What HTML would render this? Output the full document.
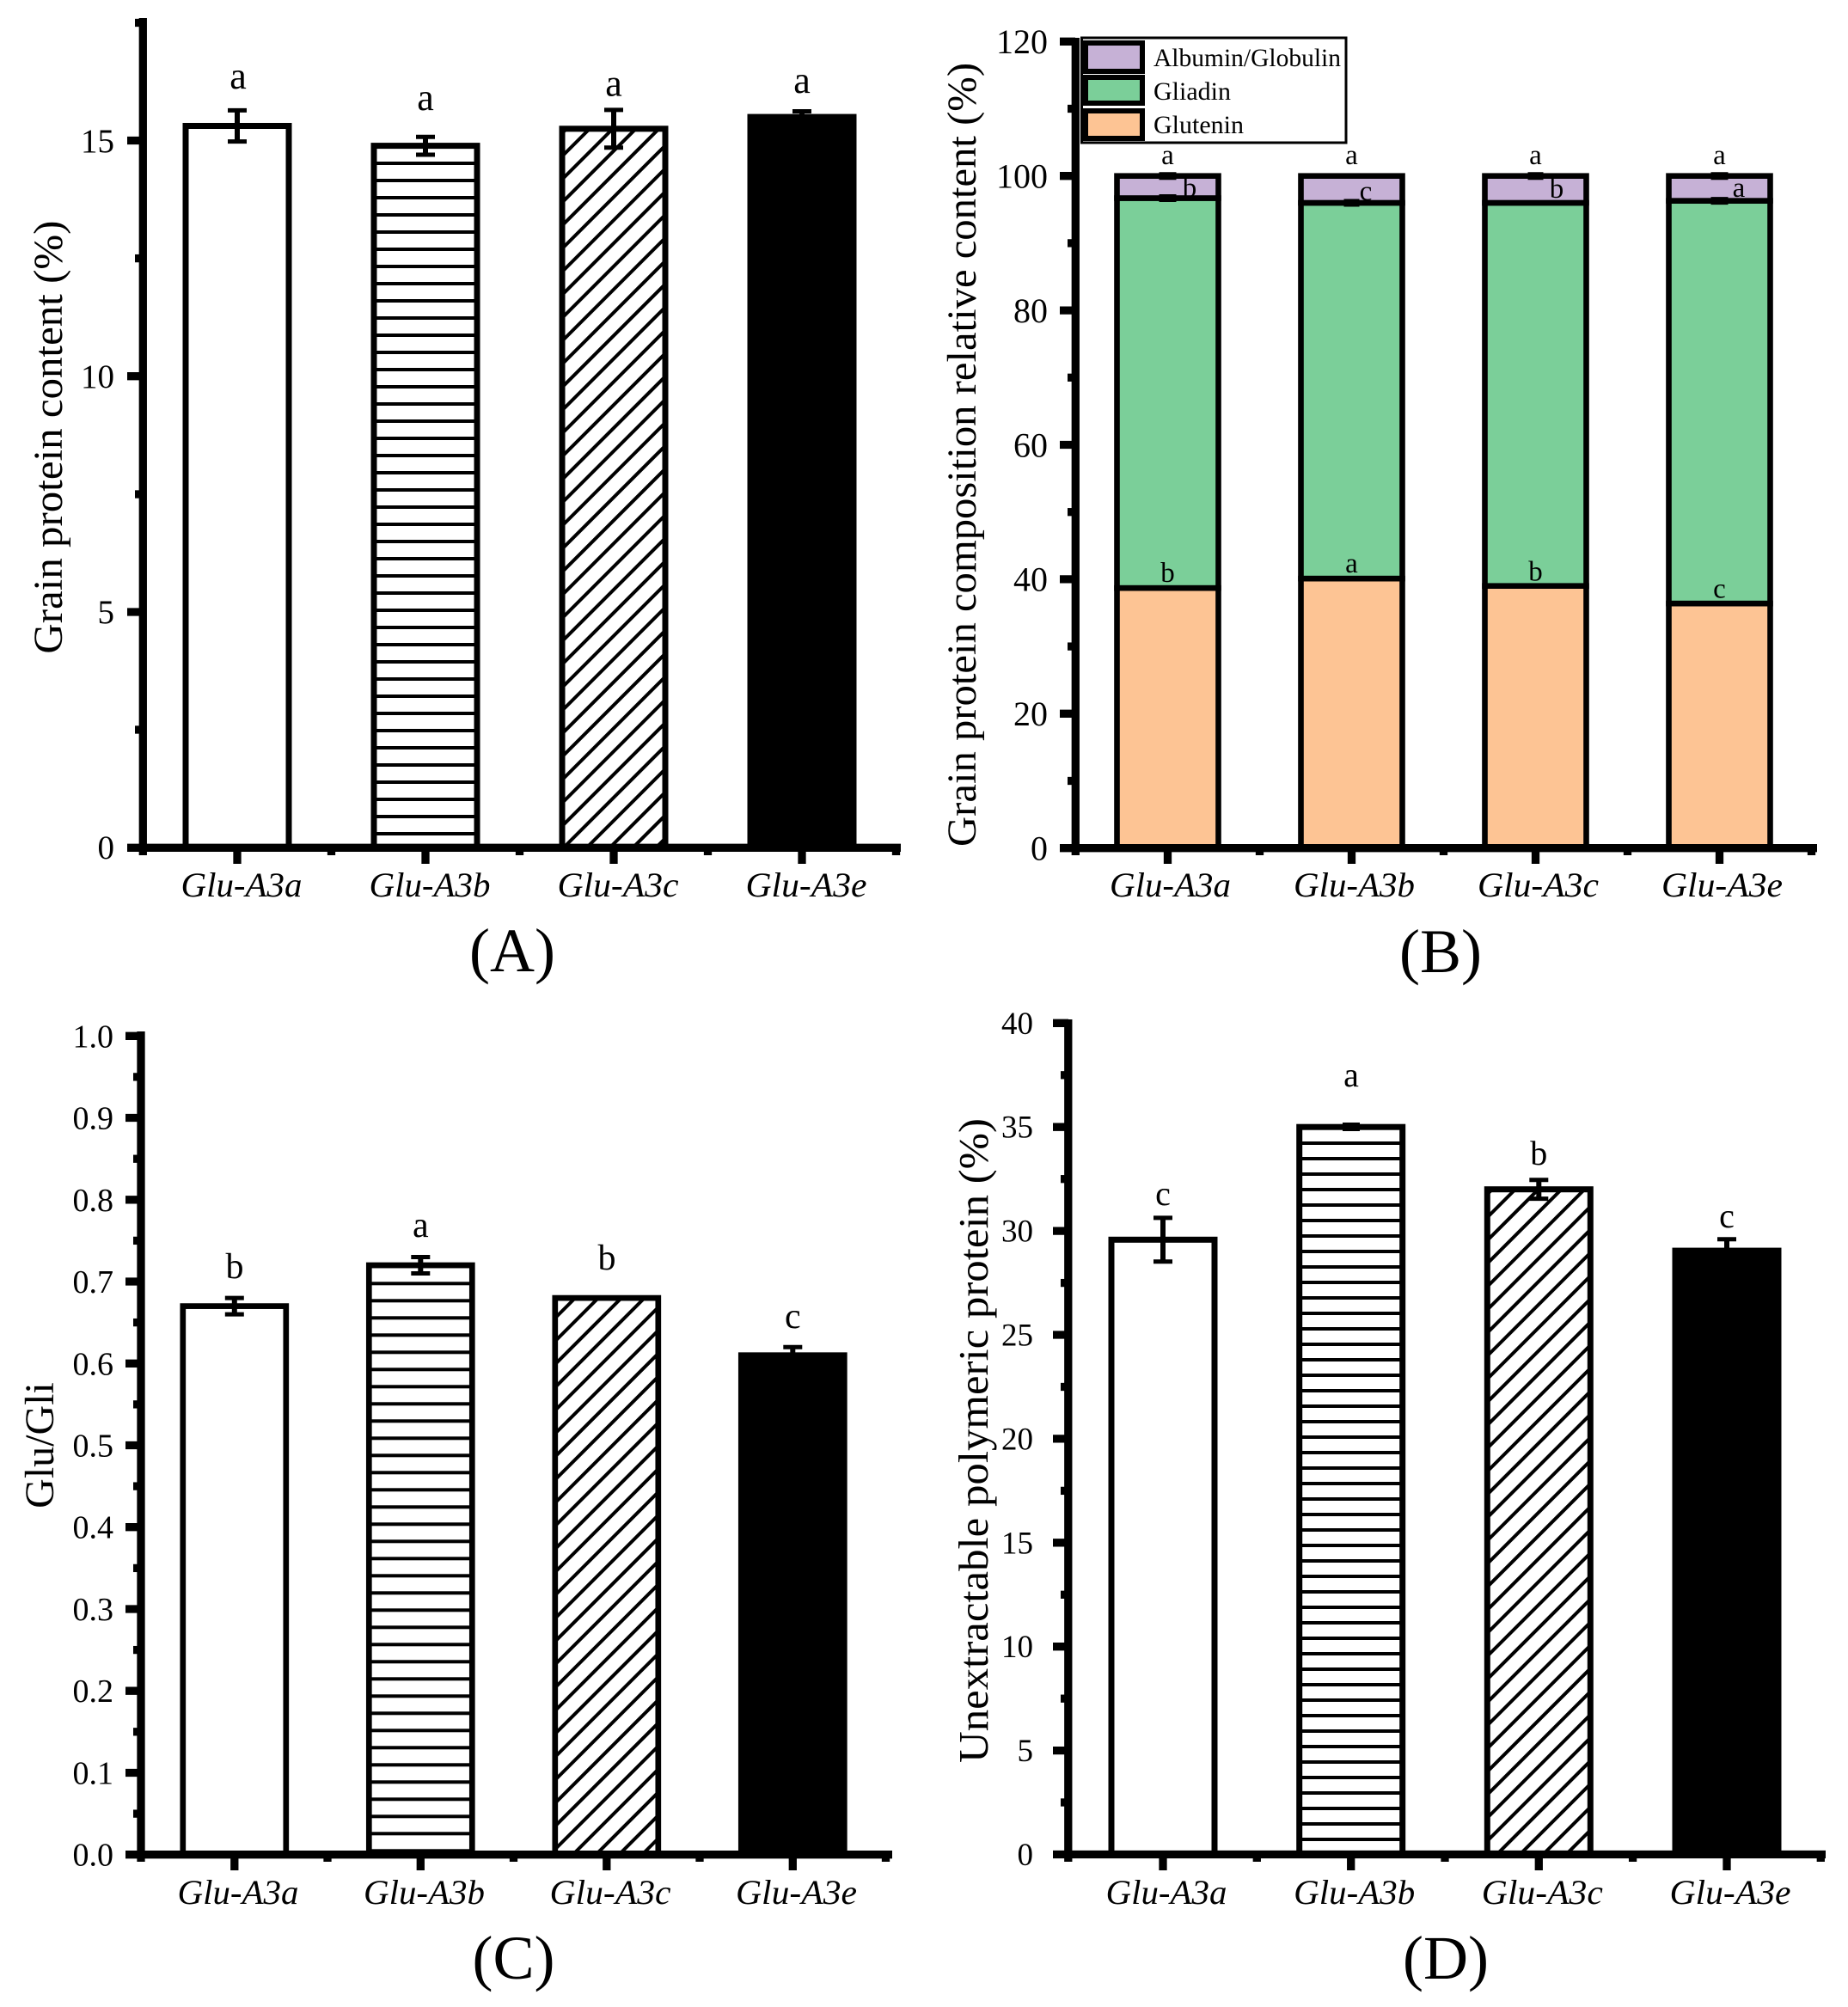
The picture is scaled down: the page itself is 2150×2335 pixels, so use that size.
<!DOCTYPE html>
<html><head><meta charset="utf-8"><style>
html,body{margin:0;padding:0;background:#fff;}
svg{display:block;}
text{font-family:"Liberation Serif","Times New Roman",serif;fill:#000;}
.it{font-style:italic;}
</style></head><body>
<svg width="2150" height="2335" viewBox="0 0 2150 2335" xmlns="http://www.w3.org/2000/svg">
<defs>
<pattern id="hA" patternUnits="userSpaceOnUse" width="40" height="20" x="0" y="0"><rect x="0" y="8" width="40" height="4" fill="#000"/></pattern>
<pattern id="hC" patternUnits="userSpaceOnUse" width="40" height="20" x="0" y="3.3"><rect x="0" y="8" width="40" height="4" fill="#000"/></pattern>
<pattern id="hD" patternUnits="userSpaceOnUse" width="40" height="18" x="0" y="7"><rect x="0" y="7" width="40" height="4" fill="#000"/></pattern>
<pattern id="dg" patternUnits="userSpaceOnUse" width="19" height="40" patternTransform="rotate(45)"><rect x="0" y="0" width="4" height="40" fill="#000"/></pattern>
</defs>
<rect width="2150" height="2335" fill="#fff"/>

<!-- ================= PANEL A ================= -->
<g>
<rect x="216" y="146.5" width="120" height="839.5" fill="#fff" stroke="#000" stroke-width="7"/>
<rect x="435" y="169.6" width="120" height="816.4" fill="#fff"/>
<rect x="435" y="169.6" width="120" height="816.4" fill="url(#hA)" stroke="#000" stroke-width="7"/>
<rect x="654" y="149.8" width="120" height="836.2" fill="#fff"/>
<rect x="654" y="149.8" width="120" height="836.2" fill="url(#dg)" stroke="#000" stroke-width="7"/>
<rect x="873" y="136.1" width="120" height="849.9" fill="#000" stroke="#000" stroke-width="7"/>
<g stroke="#000" stroke-width="6">
<line x1="276" y1="128.4" x2="276" y2="164.6"/><line x1="495" y1="159.2" x2="495" y2="180"/><line x1="714" y1="127.9" x2="714" y2="171.7"/><line x1="933" y1="129.5" x2="933" y2="137"/>
</g>
<g stroke="#000" stroke-width="5">
<line x1="265" y1="128.4" x2="287" y2="128.4"/><line x1="265" y1="164.6" x2="287" y2="164.6"/>
<line x1="484" y1="159.2" x2="506" y2="159.2"/><line x1="484" y1="180" x2="506" y2="180"/>
<line x1="703" y1="127.9" x2="725" y2="127.9"/><line x1="703" y1="171.7" x2="725" y2="171.7"/>
<line x1="922" y1="129.5" x2="944" y2="129.5"/>
</g>
<g stroke="#000" stroke-width="9.3">
<line x1="166.3" y1="21" x2="166.3" y2="995"/>
<line x1="148" y1="986.3" x2="1048" y2="986.3"/>
<line x1="148" y1="712" x2="166" y2="712"/><line x1="148" y1="437.7" x2="166" y2="437.7"/><line x1="148" y1="163.5" x2="166" y2="163.5"/>
<line x1="157" y1="849" x2="166" y2="849"/><line x1="157" y1="575" x2="166" y2="575"/><line x1="157" y1="300.6" x2="166" y2="300.6"/><line x1="157" y1="26.5" x2="166" y2="26.5"/>
<line x1="276" y1="986" x2="276" y2="1005"/><line x1="495" y1="986" x2="495" y2="1005"/><line x1="714" y1="986" x2="714" y2="1005"/><line x1="933" y1="986" x2="933" y2="1005"/>
<line x1="385.5" y1="986" x2="385.5" y2="995"/><line x1="604.5" y1="986" x2="604.5" y2="995"/><line x1="823.5" y1="986" x2="823.5" y2="995"/><line x1="1042.5" y1="986" x2="1042.5" y2="995"/>
</g>
<g font-size="39" text-anchor="end">
<text x="133" y="999">0</text><text x="133" y="725">5</text><text x="133" y="451">10</text><text x="133" y="177">15</text>
</g>
<g font-size="44" text-anchor="middle">
<text x="277" y="103">a</text><text x="495" y="128">a</text><text x="714" y="111.5">a</text><text x="933" y="108">a</text>
</g>
<g font-size="40" class="it" text-anchor="middle">
<text x="281" y="1043" textLength="141" lengthAdjust="spacingAndGlyphs">Glu-A3a</text>
<text x="500" y="1043" textLength="141" lengthAdjust="spacingAndGlyphs">Glu-A3b</text>
<text x="719" y="1043" textLength="141" lengthAdjust="spacingAndGlyphs">Glu-A3c</text>
<text x="938" y="1043" textLength="141" lengthAdjust="spacingAndGlyphs">Glu-A3e</text>
</g>
<text x="596" y="1130" font-size="72" text-anchor="middle">(A)</text>
<text transform="translate(72,508.6) rotate(-90)" font-size="48" text-anchor="middle" textLength="504" lengthAdjust="spacingAndGlyphs">Grain protein content (%)</text>
</g>

<!-- ================= PANEL B ================= -->
<g>
<g stroke="#000" stroke-width="6.6">
<rect x="1299.5" y="684.1" width="118" height="302.6" fill="#fdc494"/>
<rect x="1299.5" y="230.5" width="118" height="453.6" fill="#7bcf99"/>
<rect x="1299.5" y="204.7" width="118" height="25.8" fill="#c6b1d6"/>
<rect x="1513.5" y="673.1" width="118" height="313.6" fill="#fdc494"/>
<rect x="1513.5" y="236" width="118" height="437.1" fill="#7bcf99"/>
<rect x="1513.5" y="204.7" width="118" height="31.3" fill="#c6b1d6"/>
<rect x="1727.5" y="681.7" width="118" height="305" fill="#fdc494"/>
<rect x="1727.5" y="236" width="118" height="445.7" fill="#7bcf99"/>
<rect x="1727.5" y="204.7" width="118" height="31.3" fill="#c6b1d6"/>
<rect x="1941.5" y="702.1" width="118" height="284.6" fill="#fdc494"/>
<rect x="1941.5" y="233.6" width="118" height="468.5" fill="#7bcf99"/>
<rect x="1941.5" y="204.7" width="118" height="28.9" fill="#c6b1d6"/>
</g>
<g stroke="#000" stroke-width="9">
<line x1="1348.5" y1="204.7" x2="1368.5" y2="204.7"/><line x1="1348.5" y1="230.5" x2="1368.5" y2="230.5"/>
<line x1="1563.5" y1="236" x2="1581.5" y2="236"/>
<line x1="1777.5" y1="204.7" x2="1795.5" y2="204.7"/>
<line x1="1990.5" y1="204.7" x2="2010.5" y2="204.7"/><line x1="1990.5" y1="233.6" x2="2010.5" y2="233.6"/>
</g>
<g stroke="#000" stroke-width="9.3">
<line x1="1251.3" y1="44" x2="1251.3" y2="995"/>
<line x1="1233" y1="986.7" x2="2114" y2="986.7"/>
<line x1="1233" y1="830.3" x2="1251" y2="830.3"/><line x1="1233" y1="673.9" x2="1251" y2="673.9"/><line x1="1233" y1="517.5" x2="1251" y2="517.5"/><line x1="1233" y1="361.1" x2="1251" y2="361.1"/><line x1="1233" y1="204.7" x2="1251" y2="204.7"/><line x1="1233" y1="48.3" x2="1251" y2="48.3"/>
<line x1="1242" y1="908.5" x2="1251" y2="908.5"/><line x1="1242" y1="752.1" x2="1251" y2="752.1"/><line x1="1242" y1="595.7" x2="1251" y2="595.7"/><line x1="1242" y1="439.3" x2="1251" y2="439.3"/><line x1="1242" y1="282.9" x2="1251" y2="282.9"/><line x1="1242" y1="126.5" x2="1251" y2="126.5"/>
<line x1="1358.5" y1="986" x2="1358.5" y2="1005"/><line x1="1572.5" y1="986" x2="1572.5" y2="1005"/><line x1="1786.5" y1="986" x2="1786.5" y2="1005"/><line x1="2000.5" y1="986" x2="2000.5" y2="1005"/>
<line x1="1465.5" y1="986" x2="1465.5" y2="995"/><line x1="1679.5" y1="986" x2="1679.5" y2="995"/><line x1="1893.5" y1="986" x2="1893.5" y2="995"/><line x1="2107.5" y1="986" x2="2107.5" y2="995"/>
</g>
<!-- legend -->
<rect x="1258.5" y="44" width="307.5" height="122" fill="#fff" stroke="#000" stroke-width="3"/>
<g stroke="#000" stroke-width="6">
<rect x="1263" y="50" width="66" height="33" fill="#c6b1d6"/>
<rect x="1263" y="90" width="66" height="30" fill="#7bcf99"/>
<rect x="1263" y="129" width="66" height="32" fill="#fdc494"/>
</g>
<g font-size="30">
<text x="1342" y="77" textLength="218" lengthAdjust="spacingAndGlyphs">Albumin/Globulin</text>
<text x="1342" y="116">Gliadin</text>
<text x="1342" y="155">Glutenin</text>
</g>
<g font-size="40" text-anchor="end">
<text x="1219" y="1000.5">0</text><text x="1219" y="844.1">20</text><text x="1219" y="687.7">40</text><text x="1219" y="531.3">60</text><text x="1219" y="374.9">80</text><text x="1219" y="218.5">100</text><text x="1219" y="62.1">120</text>
</g>
<g font-size="33" text-anchor="middle">
<text x="1358.5" y="191">a</text><text x="1572.5" y="191">a</text><text x="1786.5" y="191">a</text><text x="2000.5" y="191">a</text>
<text x="1384" y="229">b</text><text x="1589" y="233">c</text><text x="1811" y="230">b</text><text x="2023" y="229">a</text>
<text x="1358.5" y="677">b</text><text x="1572.5" y="666">a</text><text x="1786.5" y="675.5">b</text><text x="2000.5" y="695.5">c</text>
</g>
<g font-size="40" class="it" text-anchor="middle">
<text x="1361.5" y="1043" textLength="141" lengthAdjust="spacingAndGlyphs">Glu-A3a</text>
<text x="1575.5" y="1043" textLength="141" lengthAdjust="spacingAndGlyphs">Glu-A3b</text>
<text x="1789.5" y="1043" textLength="141" lengthAdjust="spacingAndGlyphs">Glu-A3c</text>
<text x="2003.5" y="1043" textLength="141" lengthAdjust="spacingAndGlyphs">Glu-A3e</text>
</g>
<text x="1676" y="1131" font-size="72" text-anchor="middle">(B)</text>
<text transform="translate(1135,529) rotate(-90)" font-size="48" text-anchor="middle" textLength="912" lengthAdjust="spacingAndGlyphs">Grain protein composition relative content (%)</text>
</g>

<!-- ================= PANEL C ================= -->
<g>
<rect x="212.8" y="1519.6" width="120" height="638.1" fill="#fff" stroke="#000" stroke-width="6.7"/>
<rect x="429.3" y="1472" width="120" height="685.7" fill="#fff"/>
<rect x="429.3" y="1472" width="120" height="685.7" fill="url(#hC)" stroke="#000" stroke-width="6.7"/>
<rect x="645.8" y="1510.1" width="120" height="647.6" fill="#fff"/>
<rect x="645.8" y="1510.1" width="120" height="647.6" fill="url(#dg)" stroke="#000" stroke-width="6.7"/>
<rect x="862.3" y="1576.7" width="120" height="581" fill="#000" stroke="#000" stroke-width="6.7"/>
<g stroke="#000" stroke-width="6">
<line x1="272.8" y1="1510.1" x2="272.8" y2="1529.1"/><line x1="489.3" y1="1462.5" x2="489.3" y2="1481.5"/><line x1="922.3" y1="1567.2" x2="922.3" y2="1578"/>
</g>
<g stroke="#000" stroke-width="5">
<line x1="261.8" y1="1510.1" x2="283.8" y2="1510.1"/><line x1="261.8" y1="1529.1" x2="283.8" y2="1529.1"/>
<line x1="478.3" y1="1462.5" x2="500.3" y2="1462.5"/><line x1="478.3" y1="1481.5" x2="500.3" y2="1481.5"/>
<line x1="911.3" y1="1567.2" x2="933.3" y2="1567.2"/>
</g>
<g stroke="#000" stroke-width="9.3">
<line x1="164" y1="1200" x2="164" y2="2166"/>
<line x1="146" y1="2157.7" x2="1038" y2="2157.7"/>
<line x1="146" y1="2062.5" x2="164" y2="2062.5"/><line x1="146" y1="1967.2" x2="164" y2="1967.2"/><line x1="146" y1="1872" x2="164" y2="1872"/><line x1="146" y1="1776.7" x2="164" y2="1776.7"/><line x1="146" y1="1681.5" x2="164" y2="1681.5"/><line x1="146" y1="1586.3" x2="164" y2="1586.3"/><line x1="146" y1="1491" x2="164" y2="1491"/><line x1="146" y1="1395.8" x2="164" y2="1395.8"/><line x1="146" y1="1300.5" x2="164" y2="1300.5"/><line x1="146" y1="1205.3" x2="164" y2="1205.3"/>
<line x1="155" y1="2110.1" x2="164" y2="2110.1"/><line x1="155" y1="2014.8" x2="164" y2="2014.8"/><line x1="155" y1="1919.6" x2="164" y2="1919.6"/><line x1="155" y1="1824.4" x2="164" y2="1824.4"/><line x1="155" y1="1729.1" x2="164" y2="1729.1"/><line x1="155" y1="1633.9" x2="164" y2="1633.9"/><line x1="155" y1="1538.6" x2="164" y2="1538.6"/><line x1="155" y1="1443.4" x2="164" y2="1443.4"/><line x1="155" y1="1348.2" x2="164" y2="1348.2"/><line x1="155" y1="1252.9" x2="164" y2="1252.9"/>
<line x1="272.8" y1="2157" x2="272.8" y2="2176"/><line x1="489.3" y1="2157" x2="489.3" y2="2176"/><line x1="705.8" y1="2157" x2="705.8" y2="2176"/><line x1="922.3" y1="2157" x2="922.3" y2="2176"/>
<line x1="381" y1="2157" x2="381" y2="2166"/><line x1="597.5" y1="2157" x2="597.5" y2="2166"/><line x1="814" y1="2157" x2="814" y2="2166"/><line x1="1030.5" y1="2157" x2="1030.5" y2="2166"/>
</g>
<g font-size="38" text-anchor="end">
<text x="132" y="2170.7">0.0</text><text x="132" y="2075.5">0.1</text><text x="132" y="1980.2">0.2</text><text x="132" y="1885">0.3</text><text x="132" y="1789.7">0.4</text><text x="132" y="1694.5">0.5</text><text x="132" y="1599.3">0.6</text><text x="132" y="1504">0.7</text><text x="132" y="1408.8">0.8</text><text x="132" y="1313.5">0.9</text><text x="132" y="1218.3">1.0</text>
</g>
<g font-size="42" text-anchor="middle">
<text x="273" y="1487">b</text><text x="489.3" y="1439">a</text><text x="706" y="1477">b</text><text x="922.3" y="1545">c</text>
</g>
<g font-size="40" class="it" text-anchor="middle">
<text x="277" y="2215" textLength="141" lengthAdjust="spacingAndGlyphs">Glu-A3a</text>
<text x="493.5" y="2215" textLength="141" lengthAdjust="spacingAndGlyphs">Glu-A3b</text>
<text x="710" y="2215" textLength="141" lengthAdjust="spacingAndGlyphs">Glu-A3c</text>
<text x="926.5" y="2215" textLength="141" lengthAdjust="spacingAndGlyphs">Glu-A3e</text>
</g>
<text x="597.5" y="2302" font-size="72" text-anchor="middle">(C)</text>
<text transform="translate(62,1681.5) rotate(-90)" font-size="48" text-anchor="middle">Glu/Gli</text>
</g>

<!-- ================= PANEL D ================= -->
<g>
<rect x="1293" y="1442.3" width="120" height="715.2" fill="#fff" stroke="#000" stroke-width="7"/>
<rect x="1511.7" y="1311.2" width="120" height="846.3" fill="#fff"/>
<rect x="1511.7" y="1311.2" width="120" height="846.3" fill="url(#hD)" stroke="#000" stroke-width="7"/>
<rect x="1730.3" y="1383.7" width="120" height="773.8" fill="#fff"/>
<rect x="1730.3" y="1383.7" width="120" height="773.8" fill="url(#dg)" stroke="#000" stroke-width="7"/>
<rect x="1949" y="1455.1" width="120" height="702.4" fill="#000" stroke="#000" stroke-width="7"/>
<g stroke="#000" stroke-width="6">
<line x1="1353" y1="1416.9" x2="1353" y2="1467.7"/><line x1="1790.3" y1="1372.8" x2="1790.3" y2="1394.6"/><line x1="2009" y1="1441.8" x2="2009" y2="1456"/>
</g>
<g stroke="#000" stroke-width="5">
<line x1="1342" y1="1416.9" x2="1364" y2="1416.9"/><line x1="1342" y1="1467.7" x2="1364" y2="1467.7"/>
<line x1="1779.3" y1="1372.8" x2="1801.3" y2="1372.8"/><line x1="1779.3" y1="1394.6" x2="1801.3" y2="1394.6"/>
<line x1="1998" y1="1441.8" x2="2020" y2="1441.8"/>
</g>
<line x1="1562" y1="1311" x2="1582" y2="1311" stroke="#000" stroke-width="10"/>
<g stroke="#000" stroke-width="9.3">
<line x1="1242.8" y1="1186" x2="1242.8" y2="2166"/>
<line x1="1225" y1="2157.5" x2="2124" y2="2157.5"/>
<line x1="1225" y1="2036.6" x2="1243" y2="2036.6"/><line x1="1225" y1="1915.7" x2="1243" y2="1915.7"/><line x1="1225" y1="1794.8" x2="1243" y2="1794.8"/><line x1="1225" y1="1673.9" x2="1243" y2="1673.9"/><line x1="1225" y1="1553" x2="1243" y2="1553"/><line x1="1225" y1="1432.1" x2="1243" y2="1432.1"/><line x1="1225" y1="1311.2" x2="1243" y2="1311.2"/><line x1="1225" y1="1190.3" x2="1243" y2="1190.3"/>
<line x1="1234" y1="2097" x2="1243" y2="2097"/><line x1="1234" y1="1976.2" x2="1243" y2="1976.2"/><line x1="1234" y1="1855.3" x2="1243" y2="1855.3"/><line x1="1234" y1="1734.4" x2="1243" y2="1734.4"/><line x1="1234" y1="1613.5" x2="1243" y2="1613.5"/><line x1="1234" y1="1492.6" x2="1243" y2="1492.6"/><line x1="1234" y1="1371.7" x2="1243" y2="1371.7"/><line x1="1234" y1="1250.8" x2="1243" y2="1250.8"/>
<line x1="1353" y1="2157" x2="1353" y2="2176"/><line x1="1571.7" y1="2157" x2="1571.7" y2="2176"/><line x1="1790.3" y1="2157" x2="1790.3" y2="2176"/><line x1="2009" y1="2157" x2="2009" y2="2176"/>
<line x1="1462.3" y1="2157" x2="1462.3" y2="2166"/><line x1="1681" y1="2157" x2="1681" y2="2166"/><line x1="1899.6" y1="2157" x2="1899.6" y2="2166"/><line x1="2118.3" y1="2157" x2="2118.3" y2="2166"/>
</g>
<g font-size="37" text-anchor="end">
<text x="1202" y="2170">0</text><text x="1202" y="2049.1">5</text><text x="1202" y="1928.2">10</text><text x="1202" y="1807.3">15</text><text x="1202" y="1686.4">20</text><text x="1202" y="1565.5">25</text><text x="1202" y="1444.6">30</text><text x="1202" y="1323.7">35</text><text x="1202" y="1202.8">40</text>
</g>
<g font-size="40" text-anchor="middle">
<text x="1353" y="1402">c</text><text x="1572" y="1264">a</text><text x="1790.3" y="1355">b</text><text x="2009" y="1428">c</text>
</g>
<g font-size="40" class="it" text-anchor="middle">
<text x="1357" y="2215" textLength="141" lengthAdjust="spacingAndGlyphs">Glu-A3a</text>
<text x="1575.7" y="2215" textLength="141" lengthAdjust="spacingAndGlyphs">Glu-A3b</text>
<text x="1794.3" y="2215" textLength="141" lengthAdjust="spacingAndGlyphs">Glu-A3c</text>
<text x="2013" y="2215" textLength="141" lengthAdjust="spacingAndGlyphs">Glu-A3e</text>
</g>
<text x="1682" y="2302" font-size="72" text-anchor="middle">(D)</text>
<text transform="translate(1149,1676) rotate(-90)" font-size="49" text-anchor="middle" textLength="750" lengthAdjust="spacingAndGlyphs">Unextractable polymeric protein (%)</text>
</g>
</svg>
</body></html>
